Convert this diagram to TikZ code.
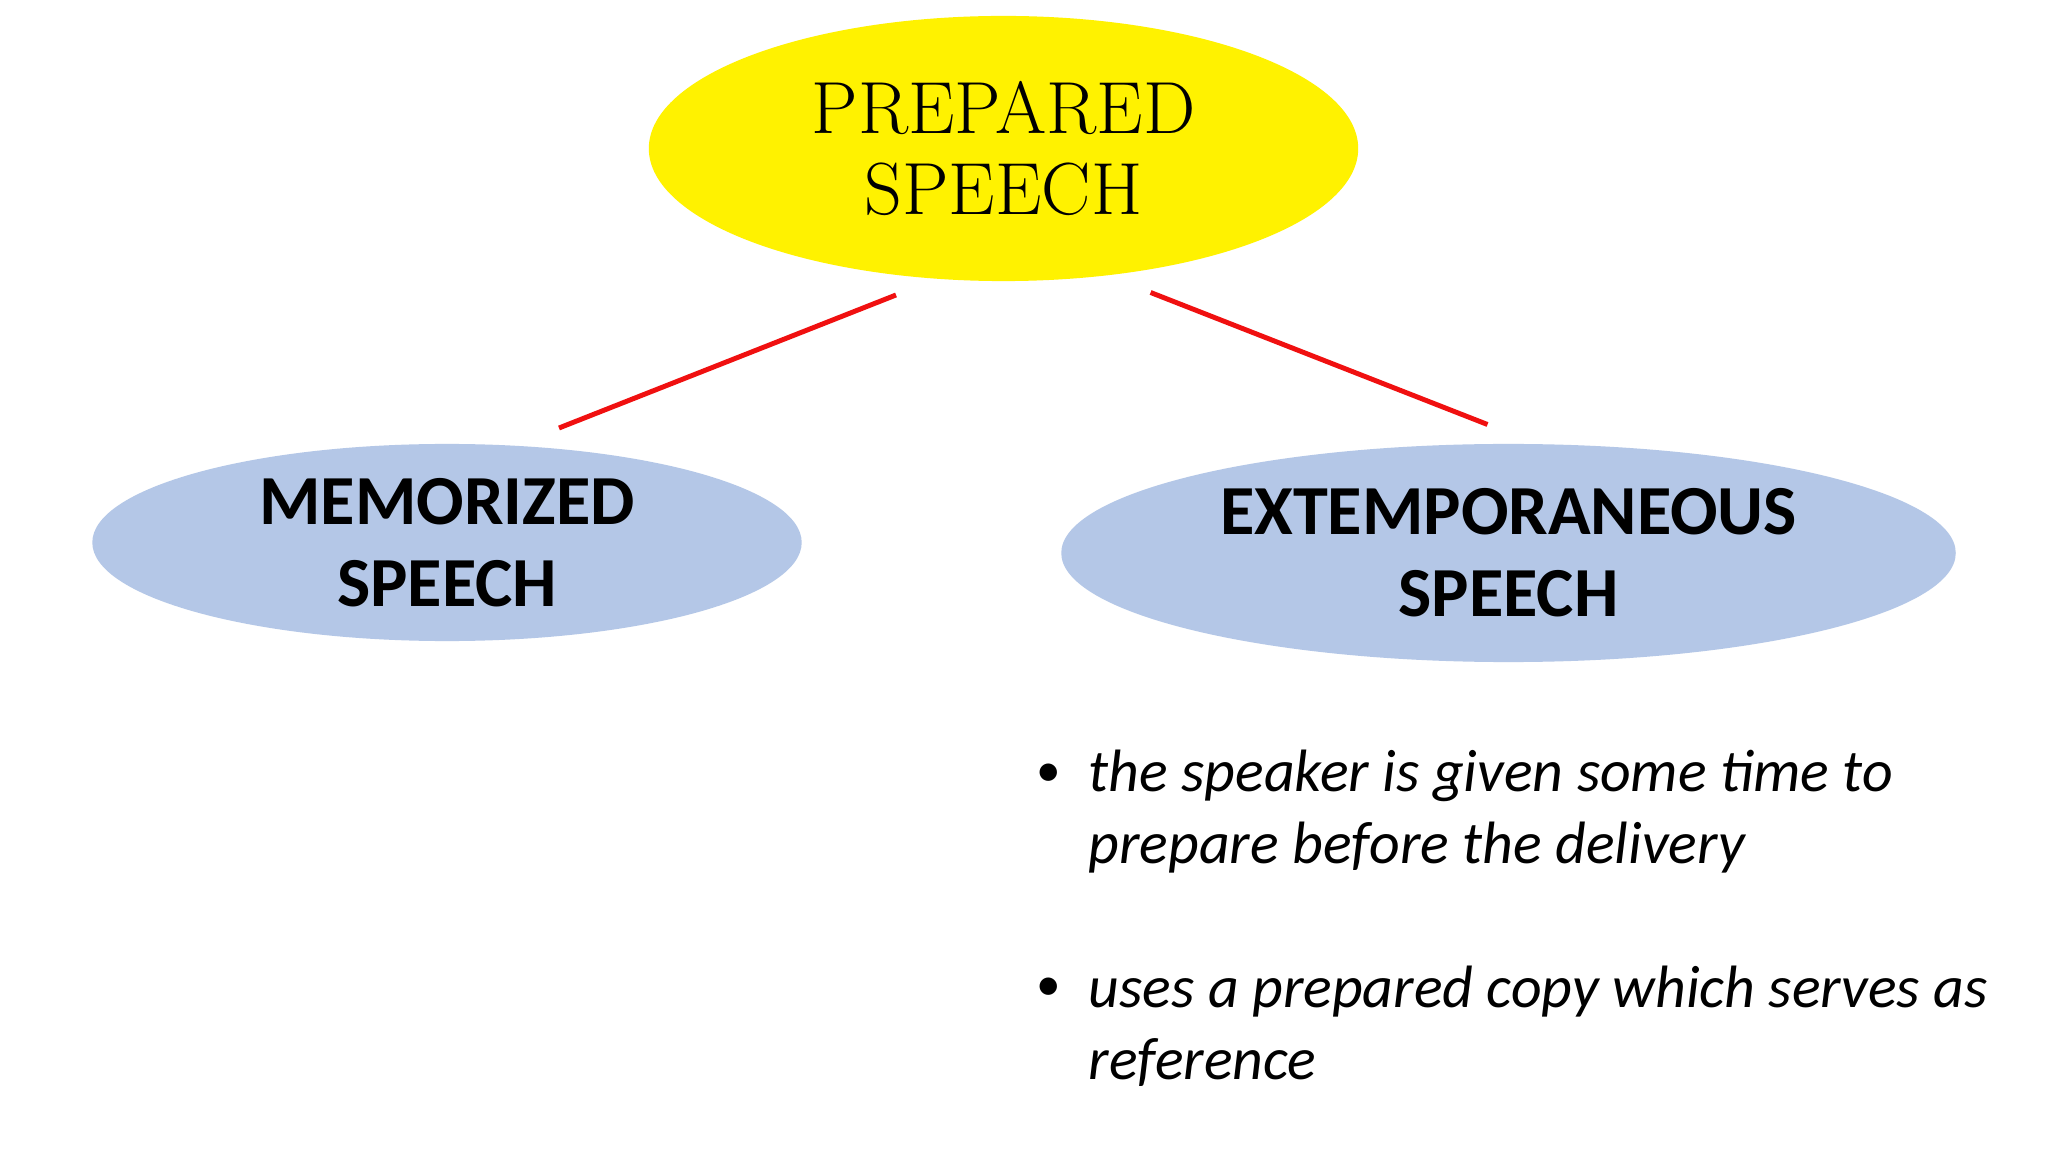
\documentclass[tikz,border=0pt]{standalone}
\usepackage{fontspec}
\newfontfamily\calib{Carlito}
\usetikzlibrary{shapes.geometric}
\definecolor{ellblue}{HTML}{B4C7E7}
\definecolor{linered}{HTML}{F01010}
\begin{document}
\begin{tikzpicture}[x=0.01cm,y=-0.01cm,
  topell/.style={ellipse, fill=yellow, inner sep=0pt, minimum width=7.09cm, minimum height=2.65cm, align=center, font=\fontsize{21}{23.3}\selectfont},
  subell/.style={ellipse, fill=ellblue, inner sep=0pt, align=center, font=\calib\bfseries\fontsize{20}{23.3}\selectfont},
  bultext/.style={inner sep=0pt, align=left, anchor=base west, font=\calib\itshape\fontsize{17}{20.2}\selectfont},
  buldot/.style={inner sep=0pt, font=\calib\fontsize{14}{17}\selectfont},
  link/.style={draw=linered, line width=1.4pt}]
\fill[white] (0,0) rectangle (2048,1152);
\useasboundingbox (0,0) rectangle (2048,1152);
\node[topell] (prep) at (1003.5,148.5) {PREPARED\\SPEECH};
\node[subell, minimum width=7.09cm, minimum height=1.97cm] (mem) at (447,542.5) {MEMORIZED\\SPEECH};
\node[subell, minimum width=8.94cm, minimum height=2.18cm] (ext) at (1508.5,553) {EXTEMPORANEOUS\\SPEECH};
\coordinate (l1a) at (896,295);
\coordinate (l1b) at (559,428);
\coordinate (l2a) at (1150.6,292.5);
\coordinate (l2b) at (1487.5,424.5);
\draw[link] (l1a) -- (l1b);
\draw[link] (l2a) -- (l2b);
\node[buldot] (d1) at (1049,775) {•};
\node[bultext] (b1) at (1088,863) {the speaker is given some time to\\prepare before the delivery};
\node[buldot] (d2) at (1049,989) {•};
\node[bultext] (b2) at (1088,1079) {uses a prepared copy which serves as\\reference};
\end{tikzpicture}
\end{document}
